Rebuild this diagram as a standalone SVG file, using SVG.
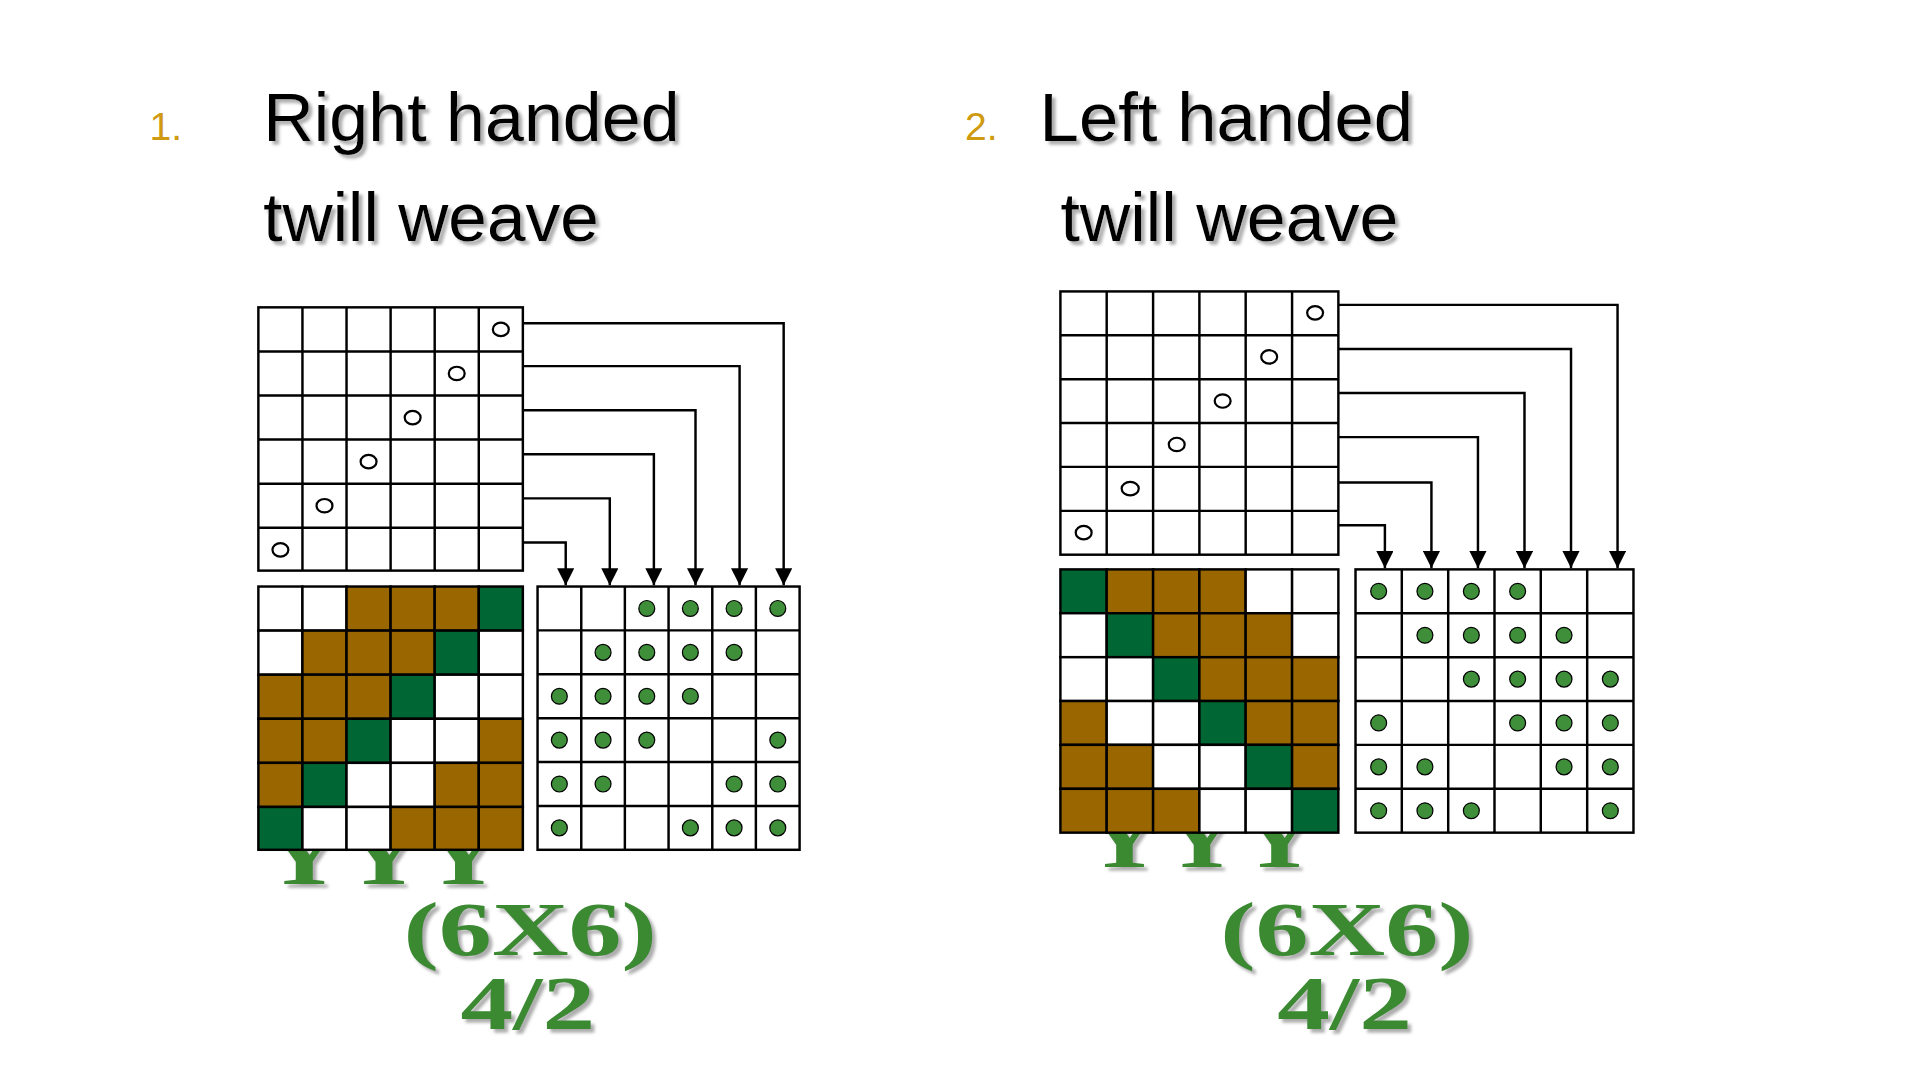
<svg xmlns="http://www.w3.org/2000/svg" width="1920" height="1080" viewBox="0 0 1920 1080">
<defs>
<marker id="ah" markerUnits="userSpaceOnUse" markerWidth="14" markerHeight="14" refX="6" refY="12" orient="0" viewBox="0 0 12 12"><path d="M0,0 L12,0 L6,12 Z" fill="#000"/></marker>
<filter id="sh" x="-10%" y="-20%" width="130%" height="150%"><feDropShadow dx="3" dy="3" stdDeviation="1.5" flood-color="#999" flood-opacity="0.8"/></filter>
<style>
.t{font-family:"Liberation Sans",Arial,sans-serif;font-size:56px;fill:#000;filter:url(#sh)}
.n{font-family:"Liberation Sans",Arial,sans-serif;font-size:32px;fill:#D09A10}
.g{font-family:"Liberation Serif","Times New Roman",serif;font-weight:bold;font-size:62px;fill:#3A8A32;text-anchor:middle;filter:url(#sh)}
.grid{fill:#fff;stroke:#000;stroke-width:2}
.ln{stroke:#000;stroke-width:2;fill:none}
.o{fill:#fff;stroke:#000;stroke-width:1.8}
.d{fill:#3F8F3A;stroke:#000;stroke-width:1}
.w{fill:#fff;stroke:#000;stroke-width:2}
.b{fill:#996600;stroke:#000;stroke-width:2}
.k{fill:#006633;stroke:#000;stroke-width:2}
.c{stroke:#000;stroke-width:2;fill:none;marker-end:url(#ah)}
</style>
</defs>
<rect width="1920" height="1080" fill="#fff"/>
<g transform="scale(1.22449)">
<g id="titles">
<text class="n" x="122" y="114">1.</text>
<text class="t" x="215" y="115" textLength="340" lengthAdjust="spacingAndGlyphs">Right handed</text>
<text class="t" x="215" y="197" textLength="274" lengthAdjust="spacingAndGlyphs">twill  weave</text>
<text class="n" x="788" y="114">2.</text>
<text class="t" x="849" y="115" textLength="305" lengthAdjust="spacingAndGlyphs">Left handed</text>
<text class="t" x="866" y="197" textLength="276" lengthAdjust="spacingAndGlyphs">twill  weave</text>
</g>
<g id="labels">
<text class="g" x="313" y="722" style="font-size:70px" textLength="195" lengthAdjust="spacingAndGlyphs">YYY</text>
<text class="g" x="433" y="780" textLength="207" lengthAdjust="spacingAndGlyphs">(6X6)</text>
<text class="g" x="431" y="840" textLength="110" lengthAdjust="spacingAndGlyphs">4/2</text>
<text class="g" x="981" y="708" style="font-size:70px" textLength="190" lengthAdjust="spacingAndGlyphs">YYY</text>
<text class="g" x="1100" y="780" textLength="207" lengthAdjust="spacingAndGlyphs">(6X6)</text>
<text class="g" x="1098" y="840" textLength="110" lengthAdjust="spacingAndGlyphs">4/2</text>
</g>
<g id="left-top-grid">
<rect class="grid" x="211" y="251" width="216" height="215"/>
<path class="ln" d="M247,251V466M283,251V466M319,251V466M355,251V466M391,251V466M211,287H427M211,323H427M211,359H427M211,395H427M211,431H427"/>
<ellipse class="o" cx="409" cy="269" rx="6.5" ry="5.5"/><ellipse class="o" cx="373" cy="305" rx="6.5" ry="5.5"/><ellipse class="o" cx="337" cy="341" rx="6.5" ry="5.5"/><ellipse class="o" cx="301" cy="377" rx="6.5" ry="5.5"/><ellipse class="o" cx="265" cy="413" rx="6.5" ry="5.5"/><ellipse class="o" cx="229" cy="449" rx="6.5" ry="5.5"/>
</g>
<g id="left-color-grid">
<rect class="w" x="211" y="479" width="36" height="36"/><rect class="w" x="247" y="479" width="36" height="36"/><rect class="b" x="283" y="479" width="36" height="36"/><rect class="b" x="319" y="479" width="36" height="36"/><rect class="b" x="355" y="479" width="36" height="36"/><rect class="k" x="391" y="479" width="36" height="36"/>
<rect class="w" x="211" y="515" width="36" height="36"/><rect class="b" x="247" y="515" width="36" height="36"/><rect class="b" x="283" y="515" width="36" height="36"/><rect class="b" x="319" y="515" width="36" height="36"/><rect class="k" x="355" y="515" width="36" height="36"/><rect class="w" x="391" y="515" width="36" height="36"/>
<rect class="b" x="211" y="551" width="36" height="36"/><rect class="b" x="247" y="551" width="36" height="36"/><rect class="b" x="283" y="551" width="36" height="36"/><rect class="k" x="319" y="551" width="36" height="36"/><rect class="w" x="355" y="551" width="36" height="36"/><rect class="w" x="391" y="551" width="36" height="36"/>
<rect class="b" x="211" y="587" width="36" height="36"/><rect class="b" x="247" y="587" width="36" height="36"/><rect class="k" x="283" y="587" width="36" height="36"/><rect class="w" x="319" y="587" width="36" height="36"/><rect class="w" x="355" y="587" width="36" height="36"/><rect class="b" x="391" y="587" width="36" height="36"/>
<rect class="b" x="211" y="623" width="36" height="36"/><rect class="k" x="247" y="623" width="36" height="36"/><rect class="w" x="283" y="623" width="36" height="36"/><rect class="w" x="319" y="623" width="36" height="36"/><rect class="b" x="355" y="623" width="36" height="36"/><rect class="b" x="391" y="623" width="36" height="36"/>
<rect class="k" x="211" y="659" width="36" height="35"/><rect class="w" x="247" y="659" width="36" height="35"/><rect class="w" x="283" y="659" width="36" height="35"/><rect class="b" x="319" y="659" width="36" height="35"/><rect class="b" x="355" y="659" width="36" height="35"/><rect class="b" x="391" y="659" width="36" height="35"/>
</g>
<g id="left-dot-grid">
<rect class="grid" x="439" y="479" width="214" height="215"/>
<path class="ln" d="M474.7,479V694M510.3,479V694M546,479V694M581.7,479V694M617.3,479V694M439,514.8H653M439,550.7H653M439,586.5H653M439,622.3H653M439,658.2H653"/>
<circle class="d" cx="528.2" cy="496.9" r="6.5"/><circle class="d" cx="563.8" cy="496.9" r="6.5"/><circle class="d" cx="599.5" cy="496.9" r="6.5"/><circle class="d" cx="635.2" cy="496.9" r="6.5"/>
<circle class="d" cx="492.5" cy="532.8" r="6.5"/><circle class="d" cx="528.2" cy="532.8" r="6.5"/><circle class="d" cx="563.8" cy="532.8" r="6.5"/><circle class="d" cx="599.5" cy="532.8" r="6.5"/>
<circle class="d" cx="456.8" cy="568.6" r="6.5"/><circle class="d" cx="492.5" cy="568.6" r="6.5"/><circle class="d" cx="528.2" cy="568.6" r="6.5"/><circle class="d" cx="563.8" cy="568.6" r="6.5"/>
<circle class="d" cx="456.8" cy="604.4" r="6.5"/><circle class="d" cx="492.5" cy="604.4" r="6.5"/><circle class="d" cx="528.2" cy="604.4" r="6.5"/><circle class="d" cx="635.2" cy="604.4" r="6.5"/>
<circle class="d" cx="456.8" cy="640.3" r="6.5"/><circle class="d" cx="492.5" cy="640.3" r="6.5"/><circle class="d" cx="599.5" cy="640.3" r="6.5"/><circle class="d" cx="635.2" cy="640.3" r="6.5"/>
<circle class="d" cx="456.8" cy="676.1" r="6.5"/><circle class="d" cx="563.8" cy="676.1" r="6.5"/><circle class="d" cx="599.5" cy="676.1" r="6.5"/><circle class="d" cx="635.2" cy="676.1" r="6.5"/>
</g>
<g id="right-top-grid">
<rect class="grid" x="866" y="238" width="227" height="215"/>
<path class="ln" d="M903.8,238V453M941.7,238V453M979.5,238V453M1017.3,238V453M1055.2,238V453M866,273.8H1093M866,309.7H1093M866,345.5H1093M866,381.3H1093M866,417.2H1093"/>
<ellipse class="o" cx="1074" cy="255.5" rx="6.5" ry="5.5"/><ellipse class="o" cx="1036.5" cy="291.5" rx="6.5" ry="5.5"/><ellipse class="o" cx="998.5" cy="327.5" rx="6.5" ry="5.5"/><ellipse class="o" cx="961" cy="363" rx="6.5" ry="5.5"/><ellipse class="o" cx="923" cy="399" rx="7" ry="5.5"/><ellipse class="o" cx="885" cy="435" rx="6.5" ry="5.5"/>
</g>
<g id="right-color-grid">
<rect class="k" x="866" y="465" width="37.8" height="35.8"/><rect class="b" x="903.8" y="465" width="37.9" height="35.8"/><rect class="b" x="941.7" y="465" width="37.8" height="35.8"/><rect class="b" x="979.5" y="465" width="37.8" height="35.8"/><rect class="w" x="1017.3" y="465" width="37.9" height="35.8"/><rect class="w" x="1055.2" y="465" width="37.8" height="35.8"/>
<rect class="w" x="866" y="500.8" width="37.8" height="35.9"/><rect class="k" x="903.8" y="500.8" width="37.9" height="35.9"/><rect class="b" x="941.7" y="500.8" width="37.8" height="35.9"/><rect class="b" x="979.5" y="500.8" width="37.8" height="35.9"/><rect class="b" x="1017.3" y="500.8" width="37.9" height="35.9"/><rect class="w" x="1055.2" y="500.8" width="37.8" height="35.9"/>
<rect class="w" x="866" y="536.7" width="37.8" height="35.8"/><rect class="w" x="903.8" y="536.7" width="37.9" height="35.8"/><rect class="k" x="941.7" y="536.7" width="37.8" height="35.8"/><rect class="b" x="979.5" y="536.7" width="37.8" height="35.8"/><rect class="b" x="1017.3" y="536.7" width="37.9" height="35.8"/><rect class="b" x="1055.2" y="536.7" width="37.8" height="35.8"/>
<rect class="b" x="866" y="572.5" width="37.8" height="35.8"/><rect class="w" x="903.8" y="572.5" width="37.9" height="35.8"/><rect class="w" x="941.7" y="572.5" width="37.8" height="35.8"/><rect class="k" x="979.5" y="572.5" width="37.8" height="35.8"/><rect class="b" x="1017.3" y="572.5" width="37.9" height="35.8"/><rect class="b" x="1055.2" y="572.5" width="37.8" height="35.8"/>
<rect class="b" x="866" y="608.3" width="37.8" height="35.9"/><rect class="b" x="903.8" y="608.3" width="37.9" height="35.9"/><rect class="w" x="941.7" y="608.3" width="37.8" height="35.9"/><rect class="w" x="979.5" y="608.3" width="37.8" height="35.9"/><rect class="k" x="1017.3" y="608.3" width="37.9" height="35.9"/><rect class="b" x="1055.2" y="608.3" width="37.8" height="35.9"/>
<rect class="b" x="866" y="644.2" width="37.8" height="35.8"/><rect class="b" x="903.8" y="644.2" width="37.9" height="35.8"/><rect class="b" x="941.7" y="644.2" width="37.8" height="35.8"/><rect class="w" x="979.5" y="644.2" width="37.8" height="35.8"/><rect class="w" x="1017.3" y="644.2" width="37.9" height="35.8"/><rect class="k" x="1055.2" y="644.2" width="37.8" height="35.8"/>
</g>
<g id="right-dot-grid">
<rect class="grid" x="1107" y="465" width="227" height="215"/>
<path class="ln" d="M1144.8,465V680M1182.7,465V680M1220.5,465V680M1258.3,465V680M1296.2,465V680M1107,500.8H1334M1107,536.7H1334M1107,572.5H1334M1107,608.3H1334M1107,644.2H1334"/>
<circle class="d" cx="1125.9" cy="482.9" r="6.5"/><circle class="d" cx="1163.7" cy="482.9" r="6.5"/><circle class="d" cx="1201.6" cy="482.9" r="6.5"/><circle class="d" cx="1239.4" cy="482.9" r="6.5"/>
<circle class="d" cx="1163.7" cy="518.8" r="6.5"/><circle class="d" cx="1201.6" cy="518.8" r="6.5"/><circle class="d" cx="1239.4" cy="518.8" r="6.5"/><circle class="d" cx="1277.3" cy="518.8" r="6.5"/>
<circle class="d" cx="1201.6" cy="554.6" r="6.5"/><circle class="d" cx="1239.4" cy="554.6" r="6.5"/><circle class="d" cx="1277.3" cy="554.6" r="6.5"/><circle class="d" cx="1315.1" cy="554.6" r="6.5"/>
<circle class="d" cx="1125.9" cy="590.4" r="6.5"/><circle class="d" cx="1239.4" cy="590.4" r="6.5"/><circle class="d" cx="1277.3" cy="590.4" r="6.5"/><circle class="d" cx="1315.1" cy="590.4" r="6.5"/>
<circle class="d" cx="1125.9" cy="626.3" r="6.5"/><circle class="d" cx="1163.7" cy="626.3" r="6.5"/><circle class="d" cx="1277.3" cy="626.3" r="6.5"/><circle class="d" cx="1315.1" cy="626.3" r="6.5"/>
<circle class="d" cx="1125.9" cy="662.1" r="6.5"/><circle class="d" cx="1163.7" cy="662.1" r="6.5"/><circle class="d" cx="1201.6" cy="662.1" r="6.5"/><circle class="d" cx="1315.1" cy="662.1" r="6.5"/>
</g>
<g id="connectors">
<path class="c" d="M427,264H640V478"/>
<path class="c" d="M427,299H604V478"/>
<path class="c" d="M427,335H568V478"/>
<path class="c" d="M427,371H534V478"/>
<path class="c" d="M427,407H498V478"/>
<path class="c" d="M427,443H462V478"/>
<path class="c" d="M1093,249H1321V464"/>
<path class="c" d="M1093,285H1283V464"/>
<path class="c" d="M1093,321H1245V464"/>
<path class="c" d="M1093,357H1207V464"/>
<path class="c" d="M1093,394H1169V464"/>
<path class="c" d="M1093,429H1131V464"/>
</g>
</g>
</svg>
